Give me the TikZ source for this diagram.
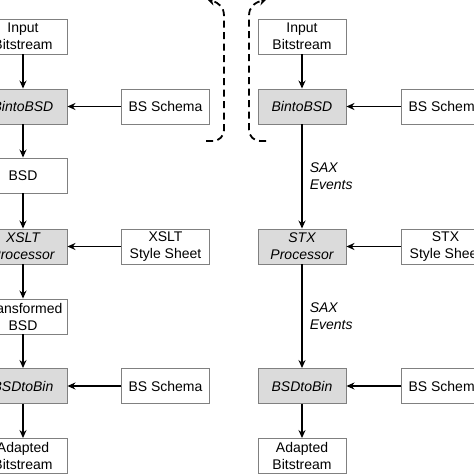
\documentclass[tikz,border=0pt]{standalone}
\usepackage{fontspec}
\setmainfont{Liberation Sans}
\usetikzlibrary{arrows.meta}
\begin{document}
\begin{tikzpicture}[x=1pt,y=-1pt,
  box/.style={draw=black!50, line width=0.9pt, fill=white, minimum width=88pt, minimum height=35pt,
    inner sep=0pt, align=center, font=\fontsize{14}{17}\selectfont},
  proc/.style={box, fill=black!14, font=\fontsize{14}{17}\selectfont\itshape},
  flow/.style={line width=1.5pt, -{Stealth[length=8pt,width=7pt]}},
  loop/.style={line width=1.8pt, dash pattern=on 7pt off 4.5pt, -{Stealth[length=8pt,width=8pt]}},
  lbl/.style={align=left, anchor=west, inner sep=0pt, font=\fontsize{14}{17}\selectfont\itshape}]
\useasboundingbox (0,0) rectangle (474,474);
\clip (0,0) rectangle (474,474);
\fill[white] (0,0) rectangle (474,474);
% left column
\node[box]  (lin)  at (23,36.5)  {Input\\Bitstream};
\node[proc] (lb2b) at (23,106.5) {BintoBSD};
\node[box]  (lbsd) at (23,175.5) {BSD};
\node[proc] (lx)   at (23,246.5) {XSLT\\Processor};
\node[box]  (ltb)  at (23,316.5) {Transformed\\BSD};
\node[proc] (lb2)  at (23,386)   {BSDtoBin};
\node[box]  (lout) at (23,456)   {Adapted\\Bitstream};
\node[box]  (ls1)  at (165.5,106.5) {BS Schema};
\node[box]  (ls2)  at (165.5,246.5) {XSLT\\Style Sheet};
\node[box]  (ls3)  at (165.5,386)   {BS Schema};
\draw[flow] (lin) -- (lb2b);
\draw[flow] (lb2b) -- (lbsd);
\draw[flow] (lbsd) -- (lx);
\draw[flow] (lx) -- (ltb);
\draw[flow] (ltb) -- (lb2);
\draw[flow] (lb2) -- (lout);
\draw[flow] (ls1) -- (lb2b);
\draw[flow] (ls2) -- (lx);
\draw[flow] (ls3) -- (lb2);
% right column
\node[box]  (rin)  at (302,36.5)  {Input\\Bitstream};
\node[proc] (rb2b) at (302,106.5) {BintoBSD};
\node[proc] (rx)   at (302,246.5) {STX\\Processor};
\node[proc] (rb2)  at (302,386)   {BSDtoBin};
\node[box]  (rout) at (302,456)   {Adapted\\Bitstream};
\node[box]  (rs1)  at (445.5,106.5) {BS Schema};
\node[box]  (rs2)  at (445.5,246.5) {STX\\Style Sheet};
\node[box]  (rs3)  at (445.5,386)   {BS Schema};
\draw[flow] (rin) -- (rb2b);
\draw[flow] (rb2b) -- (rx) node[lbl, pos=0.5, xshift=7pt] (sax1) {SAX\\Events};
\draw[flow] (rx) -- (rb2) node[lbl, pos=0.5, xshift=7pt] (sax2) {SAX\\Events};
\draw[flow] (rb2) -- (rout);
\draw[flow] (rs1) -- (rb2b);
\draw[flow] (rs2) -- (rx);
\draw[flow] (rs3) -- (rb2);
% dashed loop parts
\coordinate (la) at (206,141);
\coordinate (lb) at (207,-1);
\coordinate (ra) at (266,141);
\coordinate (rb) at (267,-1);
\draw[loop] (la) -- (213,141) to[out=0,in=-90] (224,130) -- (224,16) .. controls (224,7) and (219,3) .. (lb);
\draw[loop] (ra) -- (260,141) to[out=180,in=-90] (249,130) -- (249,16) .. controls (249,7) and (254,3) .. (rb);
\end{tikzpicture}
\end{document}
